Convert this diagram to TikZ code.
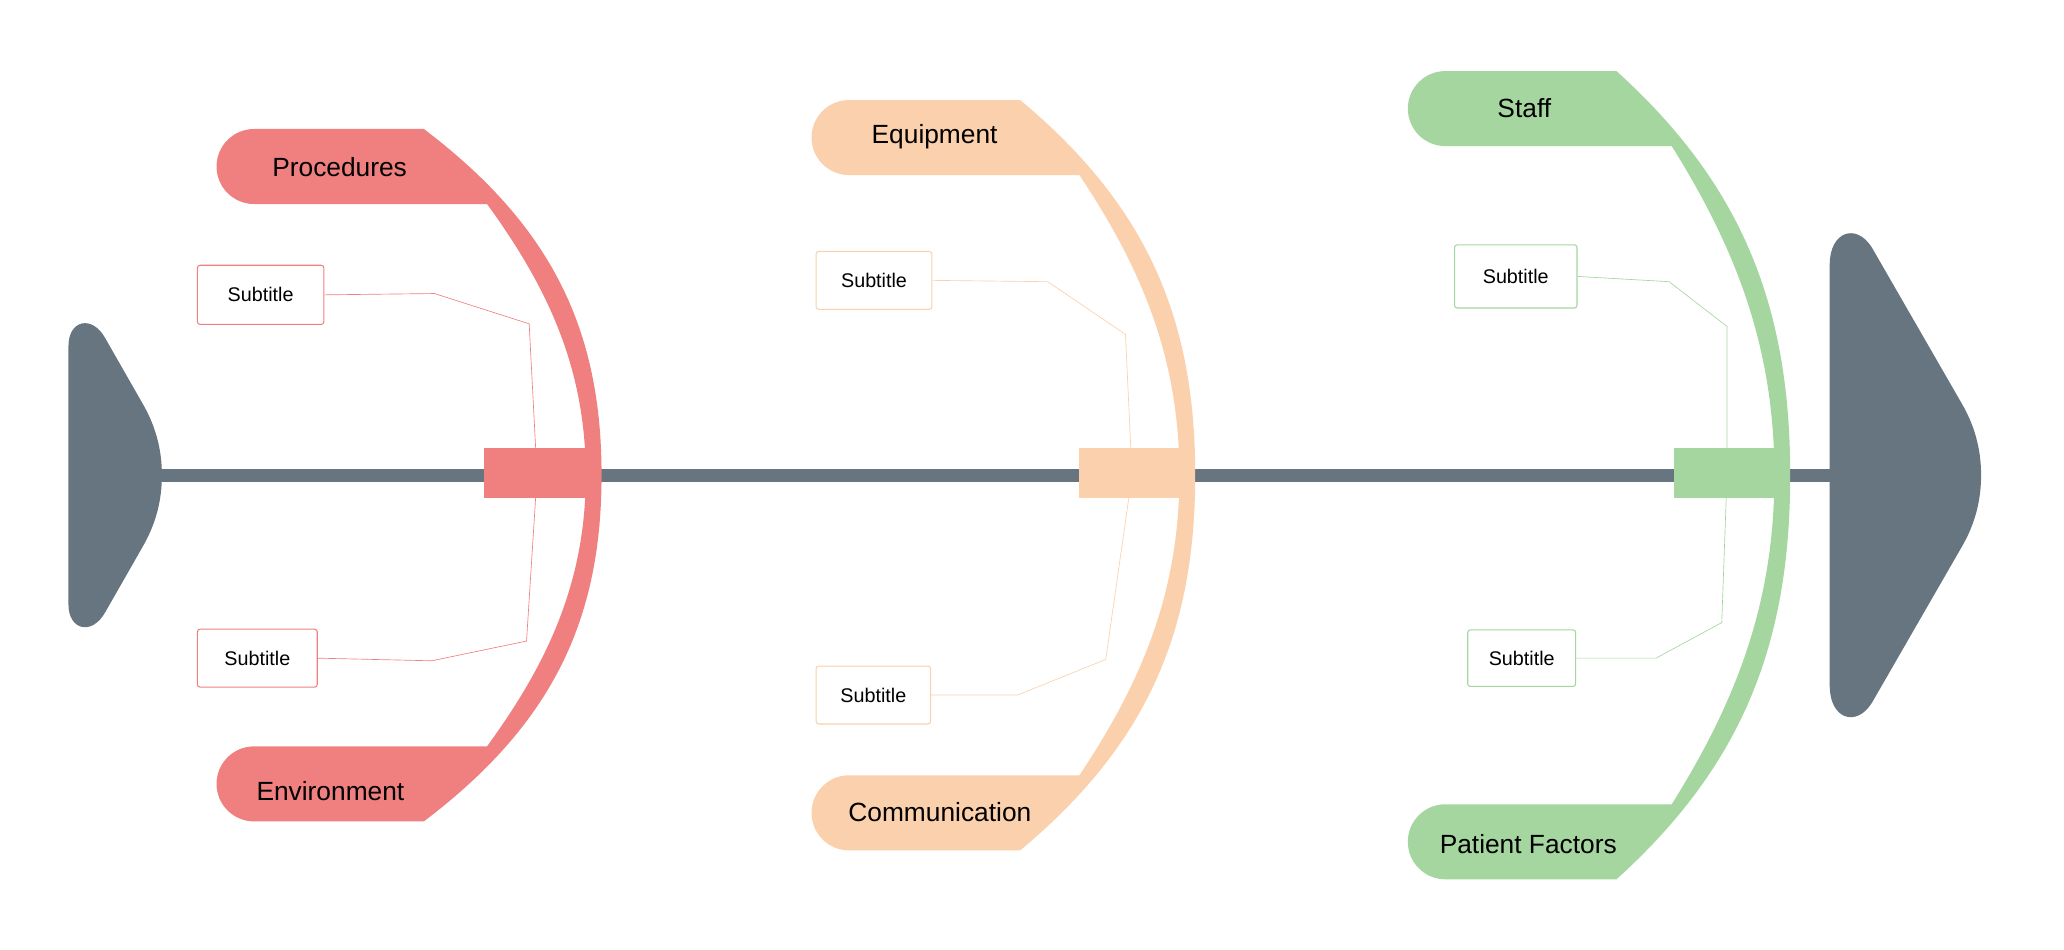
\documentclass[tikz,border=0pt]{standalone}
\usepackage{fontspec}
\setmainfont{Liberation Sans}
\usepackage{tikz}
\definecolor{spinegray}{HTML}{667580}
\definecolor{redbone}{HTML}{F08080}
\definecolor{orangebone}{HTML}{FAD0AD}
\definecolor{greenbone}{HTML}{A5D6A0}

% bow of one category: colour, left end, outer corner, inner corner, outer peak, height
\newcommand{\bone}[6]{%
  \fill[#1] ({#2+28},{360+#6}) -- (#3,{360+#6})
    .. controls ({#3+0.72*(#5-#3)},{360+0.72*#6}) and (#5,{360+0.42*#6}) .. (#5,360)
    .. controls (#5,{360-0.42*#6}) and ({#3+0.72*(#5-#3)},{360-0.72*#6}) .. (#3,{360-#6})
    -- ({#2+28},{360-#6}) arc[start angle=270,end angle=90,radius=28.5]
    -- (#4,{360-#6+57})
    .. controls ({#4+0.6*(#5-12-#4)},{360-0.7*(#6-57)}) and ({#5-12},{360-0.4*(#6-57)}) .. ({#5-12},360)
    .. controls ({#5-12},{360+0.4*(#6-57)}) and ({#4+0.6*(#5-12-#4)},{360+0.7*(#6-57)}) .. (#4,{360+#6-57})
    -- ({#2+28},{360+#6-57}) arc[start angle=270,end angle=90,radius=28.5] -- cycle;}

\begin{document}
\begin{tikzpicture}[x=1pt,y=1pt,
    cat/.style={font=\fontsize{20}{24}\selectfont},
    sub/.style={draw=#1,fill=white,rounded corners=2pt,line width=0.8pt,
                font=\fontsize{15}{18}\selectfont,inner sep=0pt},
    link/.style={draw=#1,line width=0.5pt}]
  \useasboundingbox (0,0) rectangle (1568,721);

  % connectors behind everything
  \node[sub=redbone,minimum width=96,minimum height=45] (rs1) at (198,497) {Subtitle};
  \node[sub=redbone,minimum width=91,minimum height=44] (rs2) at (195.5,221) {Subtitle};
  \node[sub=orangebone,minimum width=88,minimum height=44] (os1) at (664,508) {Subtitle};
  \node[sub=orangebone,minimum width=87,minimum height=44] (os2) at (663.5,193) {Subtitle};
  \node[sub=greenbone,minimum width=93,minimum height=48] (gs1) at (1151.5,511) {Subtitle};
  \node[sub=greenbone,minimum width=82,minimum height=43] (gs2) at (1156,221) {Subtitle};

  \draw[link=redbone] (rs1.east) -- (330,498) -- (402,475) -- (408,360) -- (400,234) -- (328,219) -- (rs2.east);
  \draw[link=orangebone] (os1.east) -- (796,507) -- (855,467) -- (860,360) -- (840,220) -- (773,193) -- (os2.east);
  \draw[link=greenbone] (gs1.east) -- (1268,507) -- (1312,473) -- (1312,360) -- (1308,248) -- (1258,221) -- (gs2.east);

  % spine, tail and head
  \fill[spinegray] (118,355) rectangle (1395,365);
  \fill[spinegray] (52,360) -- (52,458) .. controls (52,478) and (70,482) .. (80,464) -- (108,415)
    .. controls (118,398) and (123,380) .. (123,360) .. controls (123,340) and (118,322) .. (108,305)
    -- (80,256) .. controls (70,238) and (52,242) .. (52,262) -- cycle;
  \fill[spinegray] (1390,360) -- (1390,520) .. controls (1390,545) and (1410,552) .. (1422,533) -- (1490,415)
    .. controls (1500,398) and (1505,380) .. (1505,360) .. controls (1505,340) and (1500,322) .. (1490,305)
    -- (1422,187) .. controls (1410,168) and (1390,175) .. (1390,200) -- cycle;

  % bows
  \bone{redbone}{165}{322}{370}{457}{263}
  \bone{orangebone}{617}{775}{820}{908}{285}
  \bone{greenbone}{1070}{1228}{1270}{1360}{307}
  \fill[redbone] (368,343) rectangle (450,381);
  \fill[orangebone] (820,343) rectangle (902,381);
  \fill[greenbone] (1272,343) rectangle (1352,381);

  % category labels
  \node[cat] (proc) at (258,594) {Procedures};
  \node[cat] (env) at (251,120) {Environment};
  \node[cat] (equip) at (710,617) {Equipment};
  \node[cat] (comm) at (714,104) {Communication};
  \node[cat] (staff) at (1158,639) {Staff};
  \node[cat] (pat) at (1161,80) {Patient Factors};
\end{tikzpicture}
\end{document}
